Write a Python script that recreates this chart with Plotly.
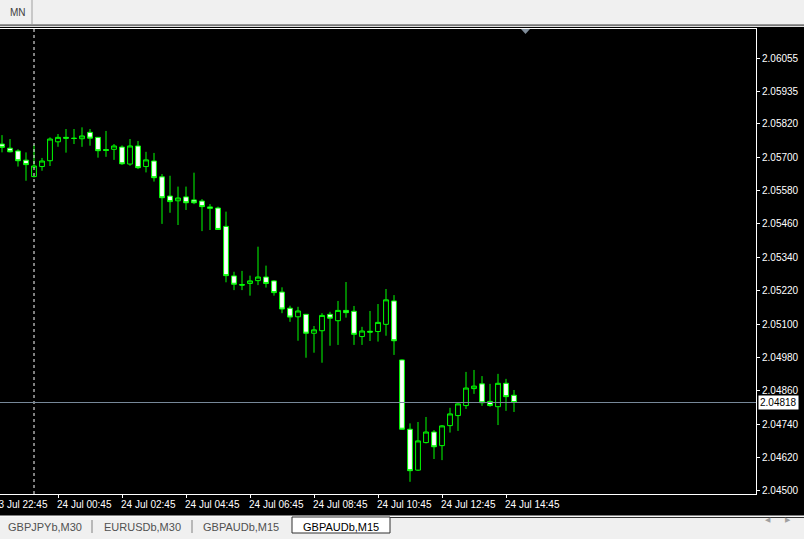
import plotly.graph_objects as go

# ---------------- data (GBPAUDb, M15) ----------------
opens = [2.05747, 2.05732, 2.05722, 2.05689, 2.05630, 2.05666, 2.05687, 2.05755, 2.05771, 2.05768,
         2.05766, 2.05789, 2.05771, 2.05727, 2.05728, 2.05736, 2.05675, 2.05740, 2.05666, 2.05686,
         2.05629, 2.05560, 2.05543, 2.05557, 2.05546, 2.05542, 2.05521, 2.05517, 2.05451, 2.05273,
         2.05242, 2.05246, 2.05256, 2.05269, 2.05255, 2.05215, 2.05157, 2.05126, 2.05135, 2.05067,
         2.05076, 2.05135, 2.05112, 2.05149, 2.05146, 2.05055, 2.05074, 2.05073, 2.05099, 2.05183,
         2.04971, 2.04722, 2.04575, 2.04674, 2.04712, 2.04663, 2.04735, 2.04771, 2.04807, 2.04868,
         2.04885, 2.04822, 2.04803, 2.04887, 2.04844]
highs = [2.05779, 2.05765, 2.05728, 2.05717, 2.05744, 2.05697, 2.05771, 2.05783, 2.05801, 2.05801,
         2.05807, 2.05801, 2.05772, 2.05794, 2.05747, 2.05742, 2.05765, 2.05758, 2.05719, 2.05715,
         2.05639, 2.05633, 2.05594, 2.05594, 2.05644, 2.05549, 2.05531, 2.05522, 2.05504, 2.05288,
         2.05291, 2.05274, 2.05378, 2.05310, 2.05258, 2.05232, 2.05166, 2.05162, 2.05136, 2.05093,
         2.05139, 2.05144, 2.05183, 2.05251, 2.05165, 2.05090, 2.05147, 2.05172, 2.05226, 2.05204,
         2.04973, 2.04743, 2.04748, 2.04766, 2.04719, 2.04737, 2.04799, 2.04815, 2.04928, 2.04935,
         2.04913, 2.04885, 2.04921, 2.04903, 2.04863]
lows = [2.05717, 2.05717, 2.05666, 2.05615, 2.05627, 2.05651, 2.05668, 2.05737, 2.05716, 2.05747,
        2.05737, 2.05741, 2.05698, 2.05701, 2.05690, 2.05672, 2.05669, 2.05657, 2.05645, 2.05612,
        2.05460, 2.05500, 2.05456, 2.05510, 2.05531, 2.05434, 2.05438, 2.05438, 2.05250, 2.05222,
        2.05222, 2.05202, 2.05240, 2.05231, 2.05202, 2.05139, 2.05108, 2.05040, 2.04979, 2.04997,
        2.04961, 2.05022, 2.05025, 2.05123, 2.05025, 2.05025, 2.05039, 2.05037, 2.05058, 2.04989,
        2.04721, 2.04533, 2.04572, 2.04671, 2.04615, 2.04611, 2.04710, 2.04716, 2.04795, 2.04849,
        2.04806, 2.04803, 2.04737, 2.04788, 2.04784]
closes = [2.05735, 2.05719, 2.05687, 2.05673, 2.05668, 2.05686, 2.05765, 2.05771, 2.05768, 2.05767,
          2.05776, 2.05768, 2.05723, 2.05724, 2.05740, 2.05676, 2.05740, 2.05662, 2.05690, 2.05626,
          2.05554, 2.05540, 2.05553, 2.05536, 2.05536, 2.05522, 2.05516, 2.05440, 2.05274, 2.05243,
          2.05240, 2.05255, 2.05269, 2.05246, 2.05213, 2.05154, 2.05125, 2.05147, 2.05067, 2.05079,
          2.05131, 2.05121, 2.05149, 2.05141, 2.05063, 2.05075, 2.05071, 2.05106, 2.05187, 2.05040,
          2.04722, 2.04573, 2.04680, 2.04712, 2.04659, 2.04734, 2.04777, 2.04813, 2.04870, 2.04877,
          2.04817, 2.04807, 2.04887, 2.04839, 2.04818]
candle_index = list(range(len(opens)))  # 15-minute bars from 23 Jul 23:00

time_tick_index = [-1, 7, 15, 23, 31, 39, 47, 55, 63]
time_tick_labels = ["23 Jul 22:45", "24 Jul 00:45", "24 Jul 02:45", "24 Jul 04:45", "24 Jul 06:45",
                    "24 Jul 08:45", "24 Jul 10:45", "24 Jul 12:45", "24 Jul 14:45"]
price_ticks = [2.06055, 2.05935, 2.05820, 2.05700, 2.05580, 2.05460, 2.05340,
               2.05220, 2.05100, 2.04980, 2.04860, 2.04740, 2.04620, 2.04500]
current_price = 2.04818
day_separator_index = 4
tab_labels = ["GBPJPYb,M30", "EURUSDb,M30", "GBPAUDb,M15", "GBPAUDb,M15"]
toolbar_label = "MN"

# ---------------- layout constants ----------------
W, H = 804, 539
PL, PR, PT, PB = 0, 756, 29, 494          # plot area in pixels
x_range = [-0.25, 94.25]
y_range = [2.044892, 2.061604]
GREEN = "#00ff00"
FONT = "Liberation Sans"


def px_x(p):
    return (p - PL) / (PR - PL)


def px_y(p):
    return (PB - p) / (PB - PT)


fig = go.Figure()
fig.add_trace(go.Candlestick(
    x=candle_index, open=opens, high=highs, low=lows, close=closes,
    increasing=dict(line=dict(color=GREEN, width=1), fillcolor="black"),
    decreasing=dict(line=dict(color=GREEN, width=1), fillcolor="white"),
    whiskerwidth=0, hoverinfo="skip", showlegend=False,
))

axis_font = dict(family=FONT, size=10, color="white")
in_range = [(i, t) for i, t in zip(time_tick_index, time_tick_labels) if i >= x_range[0]]

fig.update_layout(
    width=W, height=H,
    margin=dict(l=PL, r=W - PR, t=PT, b=H - PB, pad=0),
    paper_bgcolor="black", plot_bgcolor="black",
    showlegend=False, boxgap=0.4, boxgroupgap=0,
    xaxis=dict(range=x_range, tickvals=[i for i, _ in in_range], showticklabels=False,
               ticks="outside", ticklen=3, tickcolor="white", tickwidth=1,
               showline=True, linecolor="white", linewidth=1, mirror=True,
               showgrid=False, zeroline=False, rangeslider=dict(visible=False),
               fixedrange=True, automargin=False),
    yaxis=dict(range=y_range, side="right", tickvals=price_ticks,
               ticktext=[f"{v:.5f}" for v in price_ticks],
               ticks="outside", ticklen=3, tickcolor="white", tickwidth=1, tickfont=axis_font,
               showline=True, linecolor="white", linewidth=1,
               showgrid=False, zeroline=False, fixedrange=True, automargin=False),
)

shapes = []
# day separator
shapes.append(dict(type="line", xref="x", yref="paper", x0=day_separator_index, x1=day_separator_index,
                   y0=0, y1=1, line=dict(color="white", width=1, dash="3px,3px")))
# current price line
shapes.append(dict(type="line", xref="paper", yref="y", x0=0, x1=1, y0=current_price, y1=current_price,
                   line=dict(color="#778899", width=1)))
# top toolbar
shapes.append(dict(type="rect", xref="paper", yref="paper", x0=px_x(-2), x1=px_x(W + 2),
                   y0=px_y(24.5), y1=px_y(-2), fillcolor="#f0f0f0", line=dict(width=0), layer="above"))
shapes.append(dict(type="line", xref="paper", yref="paper", x0=px_x(-2), x1=px_x(W + 2),
                   y0=px_y(25), y1=px_y(25), line=dict(color="#a0a0a0", width=1.5)))
shapes.append(dict(type="line", xref="paper", yref="paper", x0=px_x(0), x1=px_x(W),
                   y0=px_y(26.5), y1=px_y(26.5), line=dict(color="#e0e0e0", width=1)))
shapes.append(dict(type="line", xref="paper", yref="paper", x0=px_x(32), x1=px_x(32),
                   y0=px_y(24), y1=px_y(0), line=dict(color="#a0a0a0", width=1)))
# chart shift marker
shapes.append(dict(type="path", xref="paper", yref="paper",
                   path=f"M {px_x(521)},{px_y(29)} L {px_x(530)},{px_y(29)} L {px_x(525.5)},{px_y(34)} Z",
                   fillcolor="#7f8c99", line=dict(width=0)))
# bottom tab bar
shapes.append(dict(type="rect", xref="paper", yref="paper", x0=px_x(-2), x1=px_x(W + 2),
                   y0=px_y(H + 5), y1=px_y(516), fillcolor="#f0f0f0", line=dict(width=0)))
shapes.append(dict(type="line", xref="paper", yref="paper", x0=px_x(0), x1=px_x(W),
                   y0=px_y(516), y1=px_y(516), line=dict(color="#ffffff", width=1)))
shapes.append(dict(type="line", xref="paper", yref="paper", x0=px_x(390), x1=px_x(W),
                   y0=px_y(517.5), y1=px_y(517.5), line=dict(color="#303030", width=1)))
shapes.append(dict(type="rect", xref="paper", yref="paper", x0=px_x(292), x1=px_x(390),
                   y0=px_y(533), y1=px_y(517), fillcolor="white", line=dict(color="#303030", width=1)))
for sx in (92, 192):
    shapes.append(dict(type="line", xref="paper", yref="paper", x0=px_x(sx), x1=px_x(sx),
                       y0=px_y(520), y1=px_y(533), line=dict(color="#808080", width=1)))
fig.update_layout(shapes=shapes)

ann = []
ann.append(dict(text=toolbar_label, xref="paper", yref="paper", x=px_x(8), y=px_y(13),
                xanchor="left", yanchor="middle", showarrow=False,
                font=dict(family=FONT, size=10, color="#404040")))
# time labels, left-aligned at their tick (MetaTrader style)
for i, t in zip(time_tick_index, time_tick_labels):
    frac = (i - x_range[0]) / (x_range[1] - x_range[0])
    ann.append(dict(text=t, xref="paper", yref="paper", x=frac, y=px_y(504), xshift=-3,
                    xanchor="left", yanchor="middle", showarrow=False, font=axis_font))
tab_x = [6, 102, 201, 301]
for k, (tx, lab) in enumerate(zip(tab_x, tab_labels)):
    active = k == len(tab_labels) - 1
    ann.append(dict(text=lab, xref="paper", yref="paper", x=px_x(tx), y=px_y(526.5),
                    xanchor="left", yanchor="middle", showarrow=False,
                    font=dict(family=FONT, size=11, color="#000000" if active else "#505050")))
ann.append(dict(text="◀", xref="paper", yref="paper", x=px_x(773), y=px_y(526), showarrow=False,
                font=dict(family="DejaVu Sans", size=7, color="#a0a0a0")))
ann.append(dict(text="▶", xref="paper", yref="paper", x=px_x(793), y=px_y(526), showarrow=False,
                font=dict(family="DejaVu Sans", size=7, color="#a0a0a0")))
ann.append(dict(text=f"{current_price:.5f}", xref="paper", yref="y", x=1, y=current_price,
                xanchor="left", yanchor="middle", xshift=2, showarrow=False,
                bgcolor="white", borderpad=1,
                font=dict(family=FONT, size=10, color="black")))
fig.update_layout(annotations=ann)

fig.write_html("out.html", config={"displayModeBar": False},
               post_script="document.body.style.margin='0';document.body.style.overflow='hidden';")
